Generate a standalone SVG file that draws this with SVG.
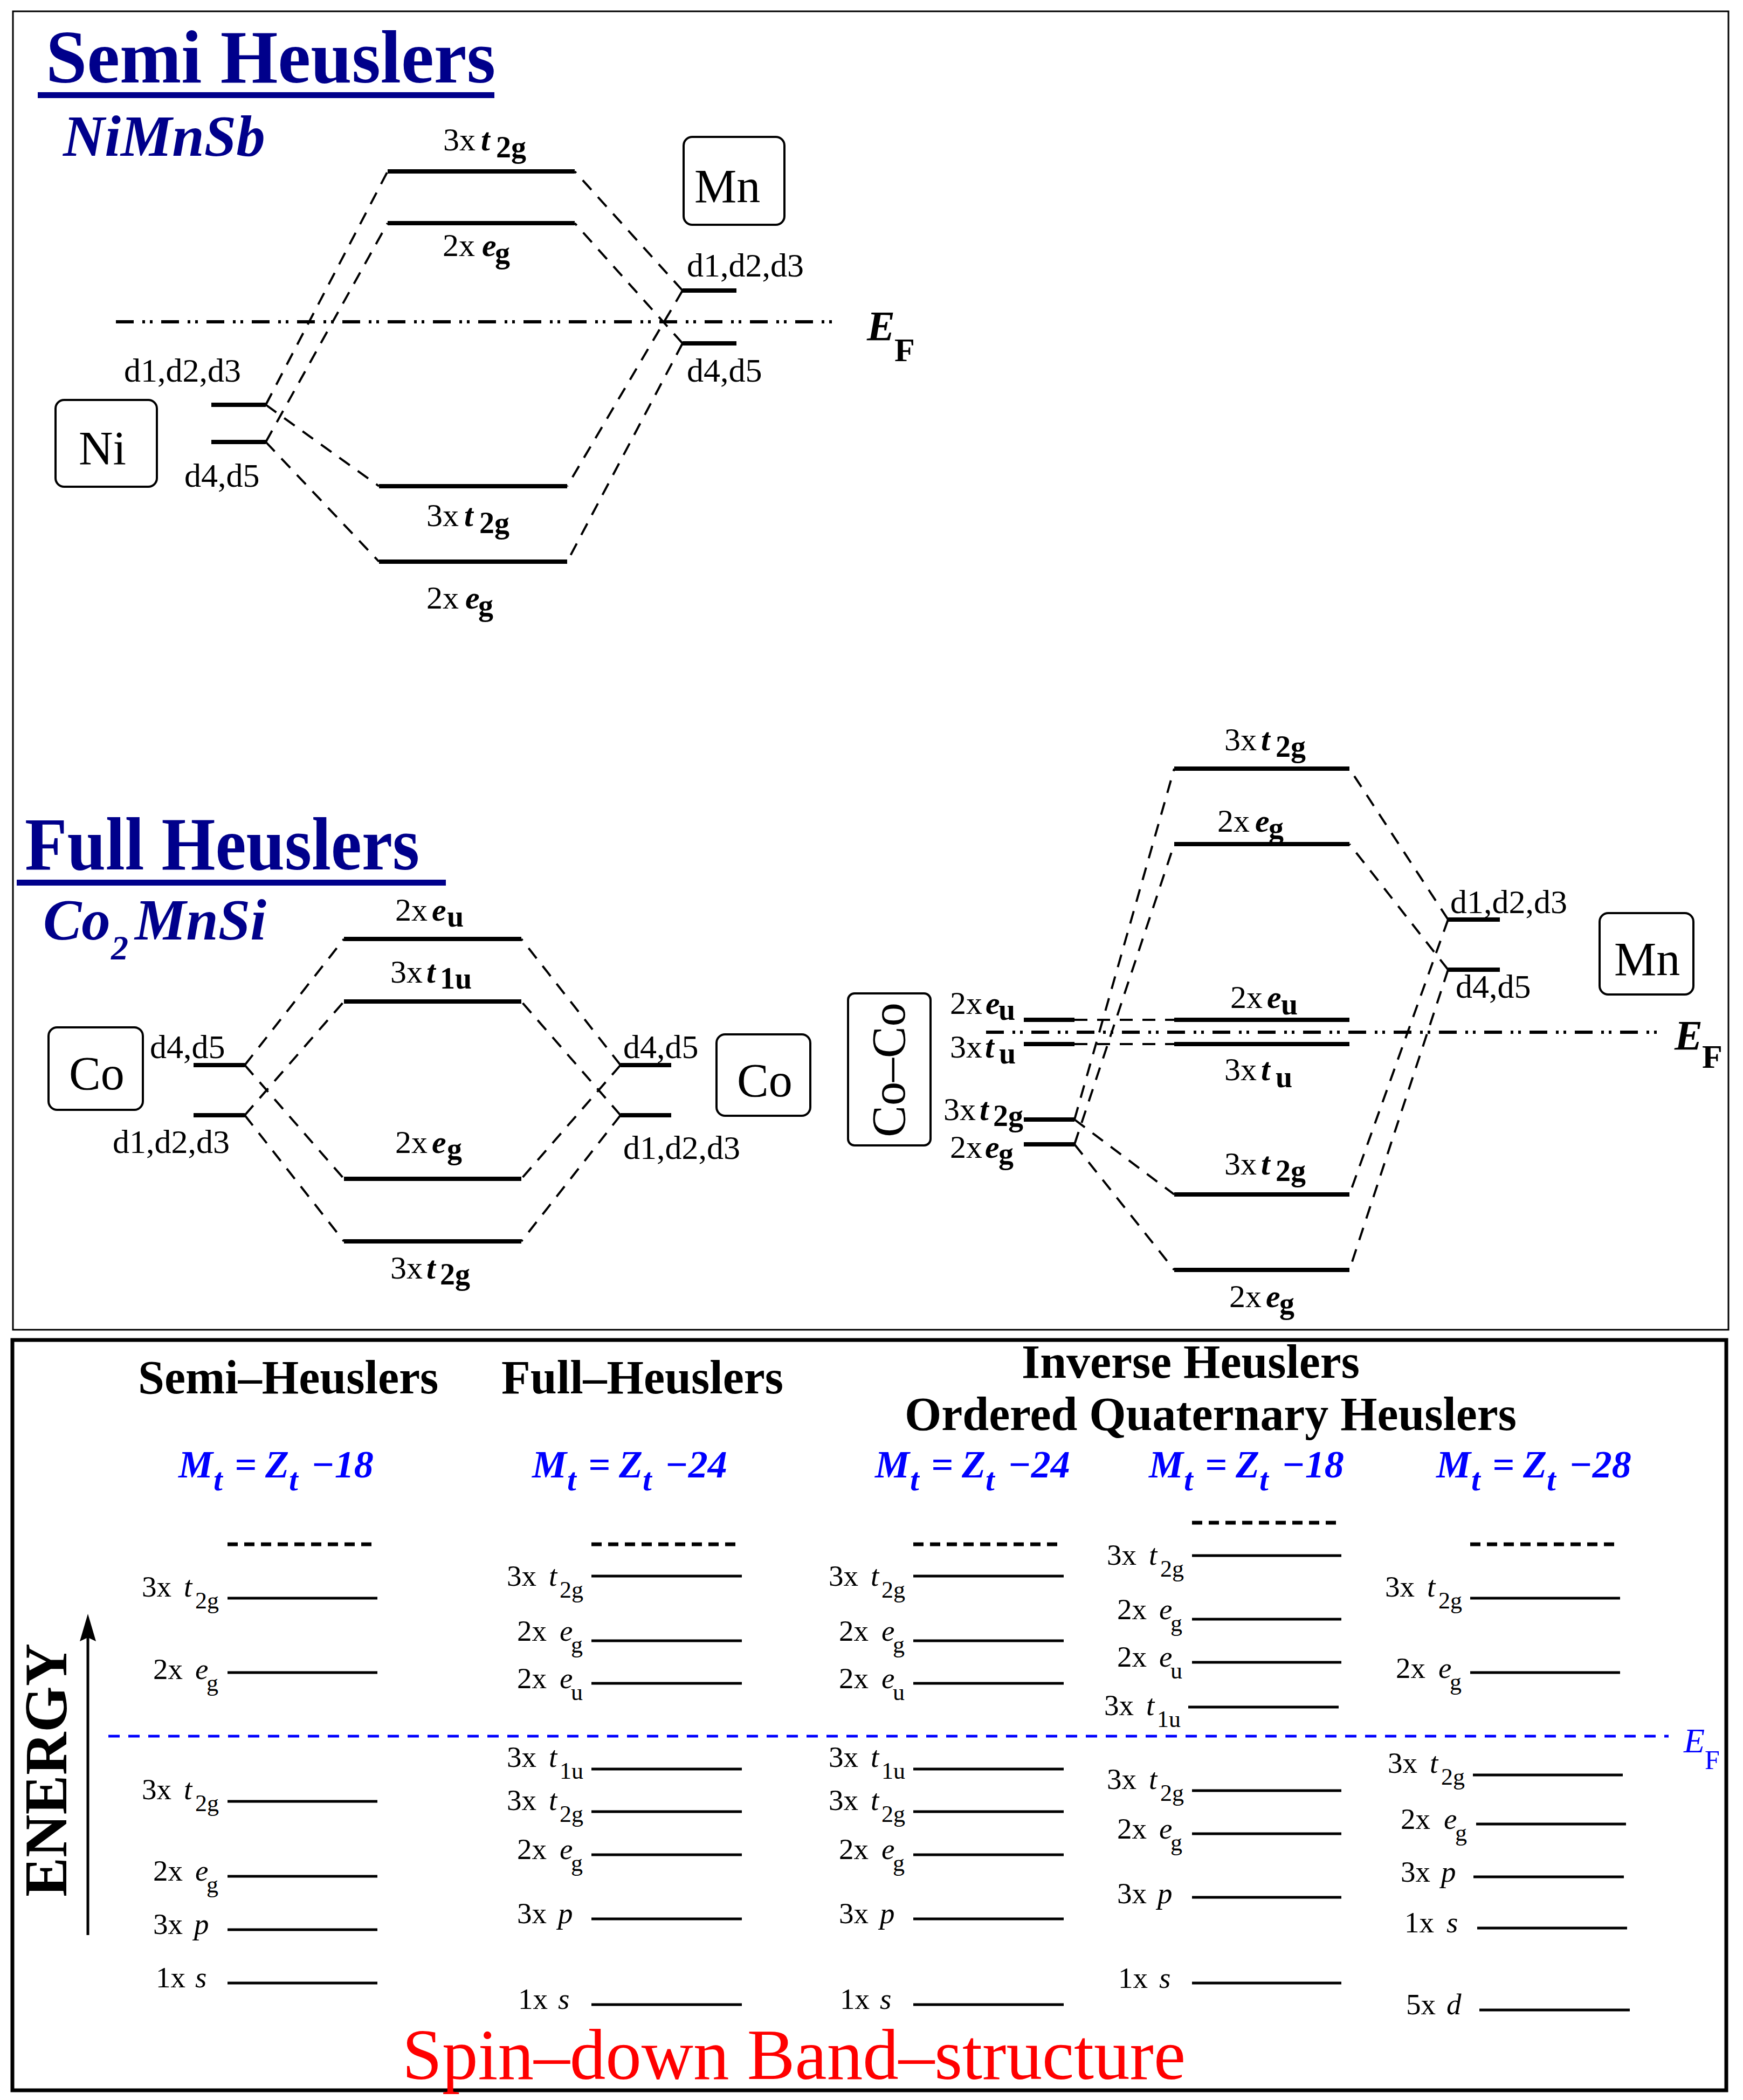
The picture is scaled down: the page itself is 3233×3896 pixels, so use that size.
<svg xmlns="http://www.w3.org/2000/svg" width="3233" height="3896" viewBox="0 0 3233 3896">
<style>
text{font-family:"Liberation Serif","Times New Roman",serif;fill:#000}
.lv{stroke:#000;stroke-width:8;fill:none}
.cn{stroke:#000;stroke-width:4;stroke-dasharray:24 18;fill:none}
.ef{stroke:#000;stroke-width:6;stroke-dasharray:33 16 5 9 5 16;fill:none}
.bl{stroke:#000;stroke-width:5;fill:none}
.bd{stroke:#000;stroke-width:7;stroke-dasharray:19 12;fill:none}
.bef{stroke:#0000ff;stroke-width:5;stroke-dasharray:21 16;fill:none}
.box{fill:none;stroke:#000;stroke-width:4}
.lb{font-size:60px}
.bi{font-weight:bold;font-style:italic}
.sb{font-weight:bold;font-size:56px}
.dl{font-size:62px}
.bx{font-size:88px}
.ttl{font-size:140px;font-weight:bold;fill:#00008b}
.cmp{font-size:107px;font-weight:bold;font-style:italic;fill:#00008b}
.hd{font-size:88px;font-weight:bold}
.fm{font-size:72px;font-weight:bold;font-style:italic;fill:#0000ff}
.fs{font-size:60px}
.tl{font-size:55px}
.it{font-style:italic}
.ts{font-size:44px}
</style>

<rect x="24" y="21" width="3182" height="2446" fill="none" stroke="#000" stroke-width="3"/>
<rect x="23" y="2486" width="3179" height="1392" fill="none" stroke="#000" stroke-width="7"/>

<!-- ===== Semi Heuslers ===== -->
<g id="semi-title">
<text class="ttl" x="85" y="153" textLength="834" lengthAdjust="spacingAndGlyphs">Semi Heuslers</text>
<rect x="70" y="171" width="847" height="11" fill="#00008b"/>
<text class="cmp" x="117" y="289">NiMnSb</text>
</g>

<g id="ni">
<rect class="box" x="103" y="742" width="188" height="161" rx="16"/>
<text class="bx" x="146" y="861">Ni</text>
<line class="lv" x1="392" y1="751" x2="493" y2="751"/>
<line class="lv" x1="392" y1="820" x2="493" y2="820"/>
<text class="dl" x="230" y="708">d1,d2,d3</text>
<text class="dl" x="342" y="903">d4,d5</text>
</g>

<g id="mn1">
<rect class="box" x="1268" y="254" width="187" height="163" rx="16"/>
<text class="bx" x="1288" y="375">Mn</text>
<line class="lv" x1="1266" y1="539" x2="1366" y2="539"/>
<line class="lv" x1="1266" y1="637" x2="1366" y2="637"/>
<text class="dl" x="1274" y="513">d1,d2,d3</text>
<text class="dl" x="1274" y="708">d4,d5</text>
</g>

<g id="semi-levels">
<line class="lv" x1="719" y1="318" x2="1066" y2="318"/>
<line class="lv" x1="719" y1="414" x2="1066" y2="414"/>
<line class="lv" x1="703" y1="902" x2="1052" y2="902"/>
<line class="lv" x1="703" y1="1042" x2="1052" y2="1042"/>
<text class="lb" x="822" y="279">3x<tspan class="bi" x="892">t</tspan><tspan class="sb" x="920" y="292">2g</tspan></text>
<text class="lb" x="821" y="475">2x<tspan class="bi" x="894">e</tspan><tspan class="sb" x="918" y="488">g</tspan></text>
<text class="lb" x="791" y="976">3x<tspan class="bi" x="861">t</tspan><tspan class="sb" x="889" y="989">2g</tspan></text>
<text class="lb" x="791" y="1129">2x<tspan class="bi" x="863">e</tspan><tspan class="sb" x="887" y="1142">g</tspan></text>
</g>

<g id="ef-semi">
<line class="ef" x1="215" y1="597" x2="1553" y2="597"/>
<text x="1608" y="631" font-size="78" font-weight="bold" font-style="italic">E</text>
<text x="1659" y="670" font-size="62" font-weight="bold">F</text>
</g>

<!-- ===== Full Heuslers ===== -->
<g id="full-title">
<text class="ttl" x="46" y="1613" textLength="732" lengthAdjust="spacingAndGlyphs">Full Heuslers</text>
<rect x="31" y="1632" width="796" height="11" fill="#00008b"/>
<text class="cmp" x="80" y="1743">Co<tspan x="206" y="1780" font-size="64">2</tspan><tspan x="250" y="1743">MnSi</tspan></text>
</g>

<g id="co-left">
<rect class="box" x="90" y="1906" width="175" height="153" rx="16"/>
<text class="bx" x="128" y="2021">Co</text>
<line class="lv" x1="359" y1="1976" x2="454" y2="1976"/>
<line class="lv" x1="359" y1="2069" x2="454" y2="2069"/>
<text class="dl" x="278" y="1963">d4,d5</text>
<text class="dl" x="209" y="2139">d1,d2,d3</text>
</g>

<g id="co-right">
<rect class="box" x="1329" y="1919" width="174" height="151" rx="16"/>
<text class="bx" x="1367" y="2034">Co</text>
<line class="lv" x1="1151" y1="1976" x2="1245" y2="1976"/>
<line class="lv" x1="1151" y1="2069" x2="1245" y2="2069"/>
<text class="dl" x="1156" y="1963">d4,d5</text>
<text class="dl" x="1156" y="2150">d1,d2,d3</text>
</g>

<g id="full-levels">
<line class="lv" x1="638" y1="1742" x2="967" y2="1742"/>
<line class="lv" x1="638" y1="1858" x2="967" y2="1858"/>
<line class="lv" x1="638" y1="2187" x2="967" y2="2187"/>
<line class="lv" x1="638" y1="2303" x2="967" y2="2303"/>
<text class="lb" x="733" y="1708">2x<tspan class="bi" x="801">e</tspan><tspan class="sb" x="829" y="1719">u</tspan></text>
<text class="lb" x="724" y="1823">3x<tspan class="bi" x="791">t</tspan><tspan class="sb" x="816" y="1834">1u</tspan></text>
<text class="lb" x="733" y="2139">2x<tspan class="bi" x="801">e</tspan><tspan class="sb" x="829" y="2150">g</tspan></text>
<text class="lb" x="724" y="2372">3x<tspan class="bi" x="791">t</tspan><tspan class="sb" x="816" y="2383">2g</tspan></text>
</g>

<g id="coco">
<rect class="box" x="1573" y="1843" width="153" height="282" rx="12"/>
<text class="bx" transform="translate(1678,1985) rotate(-90)" text-anchor="middle">Co–Co</text>
<line class="lv" x1="1899" y1="1892" x2="1993" y2="1892"/>
<line class="lv" x1="1899" y1="1937" x2="1993" y2="1937"/>
<line class="lv" x1="1899" y1="2077" x2="1993" y2="2077"/>
<line class="lv" x1="1899" y1="2123" x2="1993" y2="2123"/>
<text class="lb" x="1762" y="1881">2x<tspan class="bi" x="1828">e</tspan><tspan class="sb" x="1852" y="1892">u</tspan></text>
<text class="lb" x="1762" y="1962">3x<tspan class="bi" x="1827">t</tspan><tspan class="sb" x="1853" y="1973">u</tspan></text>
<text class="lb" x="1750" y="2078">3x<tspan class="bi" x="1817">t</tspan><tspan class="sb" x="1842" y="2089">2g</tspan></text>
<text class="lb" x="1762" y="2148">2x<tspan class="bi" x="1827">e</tspan><tspan class="sb" x="1852" y="2159">g</tspan></text>
</g>

<g id="mn2">
<rect class="box" x="2967" y="1694" width="174" height="151" rx="16"/>
<text class="bx" x="2994" y="1809">Mn</text>
<line class="lv" x1="2686" y1="1706" x2="2782" y2="1706"/>
<line class="lv" x1="2686" y1="1799" x2="2782" y2="1799"/>
<text class="dl" x="2690" y="1694">d1,d2,d3</text>
<text class="dl" x="2700" y="1851">d4,d5</text>
</g>

<g id="inv-levels">
<line class="lv" x1="2178" y1="1426" x2="2503" y2="1426"/>
<line class="lv" x1="2178" y1="1566" x2="2503" y2="1566"/>
<line class="lv" x1="2178" y1="1892" x2="2503" y2="1892"/>
<line class="lv" x1="2178" y1="1937" x2="2503" y2="1937"/>
<line class="lv" x1="2178" y1="2216" x2="2503" y2="2216"/>
<line class="lv" x1="2178" y1="2356" x2="2503" y2="2356"/>
<text class="lb" x="2271" y="1392">3x<tspan class="bi" x="2339">t</tspan><tspan class="sb" x="2366" y="1404">2g</tspan></text>
<text class="lb" x="2258" y="1543">2x<tspan class="bi" x="2328">e</tspan><tspan class="sb" x="2353" y="1555">g</tspan></text>
<text class="lb" x="2282" y="1870">2x<tspan class="bi" x="2350">e</tspan><tspan class="sb" x="2376" y="1882">u</tspan></text>
<text class="lb" x="2271" y="2004">3x<tspan class="bi" x="2339">t</tspan><tspan class="sb" x="2366" y="2017">u</tspan></text>
<text class="lb" x="2271" y="2179">3x<tspan class="bi" x="2339">t</tspan><tspan class="sb" x="2366" y="2191">2g</tspan></text>
<text class="lb" x="2280" y="2425">2x<tspan class="bi" x="2348">e</tspan><tspan class="sb" x="2373" y="2437">g</tspan></text>
</g>

<g id="ef-full">
<line class="ef" x1="1829" y1="1915" x2="3087" y2="1915"/>
<text x="3106" y="1947" font-size="78" font-weight="bold" font-style="italic">E</text>
<text x="3157" y="1981" font-size="62" font-weight="bold">F</text>
</g>

<g id="connectors">
<!-- semi -->
<line class="cn" x1="493" y1="751" x2="719" y2="318"/>
<line class="cn" x1="493" y1="751" x2="703" y2="902"/>
<line class="cn" x1="493" y1="820" x2="719" y2="414"/>
<line class="cn" x1="493" y1="820" x2="703" y2="1042"/>
<line class="cn" x1="1266" y1="539" x2="1066" y2="318"/>
<line class="cn" x1="1266" y1="539" x2="1052" y2="902"/>
<line class="cn" x1="1266" y1="637" x2="1066" y2="414"/>
<line class="cn" x1="1266" y1="637" x2="1052" y2="1042"/>
<!-- full left -->
<line class="cn" x1="454" y1="1976" x2="638" y2="1742"/>
<line class="cn" x1="454" y1="1976" x2="638" y2="2187"/>
<line class="cn" x1="454" y1="2069" x2="638" y2="1858"/>
<line class="cn" x1="454" y1="2069" x2="638" y2="2303"/>
<line class="cn" x1="1151" y1="1976" x2="967" y2="1742"/>
<line class="cn" x1="1151" y1="1976" x2="967" y2="2187"/>
<line class="cn" x1="1151" y1="2069" x2="967" y2="1858"/>
<line class="cn" x1="1151" y1="2069" x2="967" y2="2303"/>
<!-- full right -->
<line class="cn" x1="1993" y1="2077" x2="2178" y2="1426"/>
<line class="cn" x1="1993" y1="2123" x2="2178" y2="1566"/>
<line class="cn" x1="1993" y1="2077" x2="2178" y2="2216"/>
<line class="cn" x1="1993" y1="2123" x2="2178" y2="2356"/>
<line class="cn" x1="1993" y1="1892" x2="2178" y2="1892"/>
<line class="cn" x1="1993" y1="1937" x2="2178" y2="1937"/>
<line class="cn" x1="2686" y1="1706" x2="2503" y2="1426"/>
<line class="cn" x1="2686" y1="1706" x2="2503" y2="2216"/>
<line class="cn" x1="2686" y1="1799" x2="2503" y2="1566"/>
<line class="cn" x1="2686" y1="1799" x2="2503" y2="2356"/>
</g>

<!-- ===== Bottom table ===== -->
<g id="headers">
<text class="hd" x="256" y="2585">Semi–Heuslers</text>
<text class="hd" x="930" y="2585">Full–Heuslers</text>
<text class="hd" x="1895" y="2556" textLength="627" lengthAdjust="spacingAndGlyphs">Inverse Heuslers</text>
<text class="hd" x="1678" y="2653" textLength="1135" lengthAdjust="spacingAndGlyphs">Ordered Quaternary Heuslers</text>
</g>

<g id="formulas">
<text class="fm"><tspan x="331" y="2741">M</tspan><tspan class="fs" x="396" y="2765">t</tspan><tspan x="435" y="2741">=</tspan><tspan x="492" y="2741">Z</tspan><tspan class="fs" x="536" y="2765">t</tspan><tspan x="577" y="2741">−18</tspan></text>
<text class="fm"><tspan x="987" y="2741">M</tspan><tspan class="fs" x="1052" y="2765">t</tspan><tspan x="1091" y="2741">=</tspan><tspan x="1148" y="2741">Z</tspan><tspan class="fs" x="1192" y="2765">t</tspan><tspan x="1233" y="2741">−24</tspan></text>
<text class="fm"><tspan x="1623" y="2741">M</tspan><tspan class="fs" x="1688" y="2765">t</tspan><tspan x="1727" y="2741">=</tspan><tspan x="1784" y="2741">Z</tspan><tspan class="fs" x="1828" y="2765">t</tspan><tspan x="1869" y="2741">−24</tspan></text>
<text class="fm"><tspan x="2131" y="2741">M</tspan><tspan class="fs" x="2196" y="2765">t</tspan><tspan x="2235" y="2741">=</tspan><tspan x="2292" y="2741">Z</tspan><tspan class="fs" x="2336" y="2765">t</tspan><tspan x="2377" y="2741">−18</tspan></text>
<text class="fm"><tspan x="2664" y="2741">M</tspan><tspan class="fs" x="2729" y="2765">t</tspan><tspan x="2768" y="2741">=</tspan><tspan x="2825" y="2741">Z</tspan><tspan class="fs" x="2869" y="2765">t</tspan><tspan x="2910" y="2741">−28</tspan></text>
</g>

<g id="energy-axis">
<text transform="translate(123,3284) rotate(-90)" text-anchor="middle" font-size="112" font-weight="bold" textLength="470" lengthAdjust="spacingAndGlyphs">ENERGY</text>
<line x1="163" y1="3590" x2="163" y2="3035" stroke="#000" stroke-width="5"/>
<polygon points="163,2994 178,3045 163,3038 148,3045" fill="#000"/>
</g>

<g id="ef-bottom">
<line class="bef" x1="201" y1="3221" x2="3095" y2="3221"/>
<text x="3123" y="3251" font-size="64" font-style="italic" style="fill:#0000ff">E</text>
<text x="3162" y="3282" font-size="50" style="fill:#0000ff">F</text>
</g>

<g id="col-semi">
<line class="bd" x1="422" y1="2865" x2="690" y2="2865"/>
<line class="bl" x1="422" y1="2965" x2="700" y2="2965"/>
<line class="bl" x1="422" y1="3103" x2="700" y2="3103"/>
<line class="bl" x1="422" y1="3342" x2="700" y2="3342"/>
<line class="bl" x1="422" y1="3481" x2="700" y2="3481"/>
<line class="bl" x1="422" y1="3580" x2="700" y2="3580"/>
<line class="bl" x1="422" y1="3679" x2="700" y2="3679"/>
<text class="tl" x="263" y="2962">3x<tspan class="it" x="341">t</tspan><tspan class="ts" x="362" y="2984">2g</tspan></text>
<text class="tl" x="284" y="3115">2x<tspan class="it" x="362">e</tspan><tspan class="ts" x="383" y="3137">g</tspan></text>
<text class="tl" x="263" y="3338">3x<tspan class="it" x="341">t</tspan><tspan class="ts" x="362" y="3360">2g</tspan></text>
<text class="tl" x="284" y="3489">2x<tspan class="it" x="362">e</tspan><tspan class="ts" x="383" y="3511">g</tspan></text>
<text class="tl" x="284" y="3588">3x<tspan class="it" x="360">p</tspan></text>
<text class="tl" x="289" y="3687">1x<tspan class="it" x="362">s</tspan></text>
</g>

<g id="col-full">
<line class="bd" x1="1097" y1="2865" x2="1366" y2="2865"/>
<line class="bl" x1="1097" y1="2924" x2="1376" y2="2924"/>
<line class="bl" x1="1097" y1="3044" x2="1376" y2="3044"/>
<line class="bl" x1="1097" y1="3123" x2="1376" y2="3123"/>
<line class="bl" x1="1097" y1="3282" x2="1376" y2="3282"/>
<line class="bl" x1="1097" y1="3361" x2="1376" y2="3361"/>
<line class="bl" x1="1097" y1="3441" x2="1376" y2="3441"/>
<line class="bl" x1="1097" y1="3560" x2="1376" y2="3560"/>
<line class="bl" x1="1097" y1="3719" x2="1376" y2="3719"/>
<text class="tl" x="940" y="2942">3x<tspan class="it" x="1018">t</tspan><tspan class="ts" x="1038" y="2964">2g</tspan></text>
<text class="tl" x="959" y="3044">2x<tspan class="it" x="1038">e</tspan><tspan class="ts" x="1059" y="3066">g</tspan></text>
<text class="tl" x="959" y="3132">2x<tspan class="it" x="1038">e</tspan><tspan class="ts" x="1059" y="3154">u</tspan></text>
<text class="tl" x="940" y="3278">3x<tspan class="it" x="1018">t</tspan><tspan class="ts" x="1038" y="3300">1u</tspan></text>
<text class="tl" x="940" y="3358">3x<tspan class="it" x="1018">t</tspan><tspan class="ts" x="1038" y="3380">2g</tspan></text>
<text class="tl" x="959" y="3449">2x<tspan class="it" x="1038">e</tspan><tspan class="ts" x="1059" y="3471">g</tspan></text>
<text class="tl" x="959" y="3568">3x<tspan class="it" x="1035">p</tspan></text>
<text class="tl" x="961" y="3727">1x<tspan class="it" x="1035">s</tspan></text>
</g>

<g id="col-inverse">
<line class="bd" x1="1694" y1="2865" x2="1963" y2="2865"/>
<line class="bl" x1="1694" y1="2924" x2="1973" y2="2924"/>
<line class="bl" x1="1694" y1="3044" x2="1973" y2="3044"/>
<line class="bl" x1="1694" y1="3123" x2="1973" y2="3123"/>
<line class="bl" x1="1694" y1="3282" x2="1973" y2="3282"/>
<line class="bl" x1="1694" y1="3361" x2="1973" y2="3361"/>
<line class="bl" x1="1694" y1="3441" x2="1973" y2="3441"/>
<line class="bl" x1="1694" y1="3560" x2="1973" y2="3560"/>
<line class="bl" x1="1694" y1="3719" x2="1973" y2="3719"/>
<text class="tl" x="1537" y="2942">3x<tspan class="it" x="1615">t</tspan><tspan class="ts" x="1635" y="2964">2g</tspan></text>
<text class="tl" x="1556" y="3044">2x<tspan class="it" x="1635">e</tspan><tspan class="ts" x="1656" y="3066">g</tspan></text>
<text class="tl" x="1556" y="3132">2x<tspan class="it" x="1635">e</tspan><tspan class="ts" x="1656" y="3154">u</tspan></text>
<text class="tl" x="1537" y="3278">3x<tspan class="it" x="1615">t</tspan><tspan class="ts" x="1635" y="3300">1u</tspan></text>
<text class="tl" x="1537" y="3358">3x<tspan class="it" x="1615">t</tspan><tspan class="ts" x="1635" y="3380">2g</tspan></text>
<text class="tl" x="1556" y="3449">2x<tspan class="it" x="1635">e</tspan><tspan class="ts" x="1656" y="3471">g</tspan></text>
<text class="tl" x="1556" y="3568">3x<tspan class="it" x="1632">p</tspan></text>
<text class="tl" x="1558" y="3727">1x<tspan class="it" x="1632">s</tspan></text>
</g>

<g id="col-quat18">
<line class="bd" x1="2211" y1="2825" x2="2480" y2="2825"/>
<line class="bl" x1="2211" y1="2886" x2="2488" y2="2886"/>
<line class="bl" x1="2211" y1="3004" x2="2488" y2="3004"/>
<line class="bl" x1="2211" y1="3084" x2="2488" y2="3084"/>
<line class="bl" x1="2204" y1="3167" x2="2483" y2="3167"/>
<line class="bl" x1="2211" y1="3322" x2="2488" y2="3322"/>
<line class="bl" x1="2211" y1="3402" x2="2488" y2="3402"/>
<line class="bl" x1="2211" y1="3520" x2="2488" y2="3520"/>
<line class="bl" x1="2211" y1="3679" x2="2488" y2="3679"/>
<text class="tl" x="2053" y="2903">3x<tspan class="it" x="2131">t</tspan><tspan class="ts" x="2152" y="2925">2g</tspan></text>
<text class="tl" x="2072" y="3004">2x<tspan class="it" x="2150">e</tspan><tspan class="ts" x="2171" y="3026">g</tspan></text>
<text class="tl" x="2072" y="3092">2x<tspan class="it" x="2150">e</tspan><tspan class="ts" x="2171" y="3114">u</tspan></text>
<text class="tl" x="2048" y="3182">3x<tspan class="it" x="2126">t</tspan><tspan class="ts" x="2146" y="3204">1u</tspan></text>
<text class="tl" x="2053" y="3319">3x<tspan class="it" x="2131">t</tspan><tspan class="ts" x="2152" y="3341">2g</tspan></text>
<text class="tl" x="2072" y="3411">2x<tspan class="it" x="2150">e</tspan><tspan class="ts" x="2171" y="3433">g</tspan></text>
<text class="tl" x="2072" y="3531">3x<tspan class="it" x="2147">p</tspan></text>
<text class="tl" x="2074" y="3688">1x<tspan class="it" x="2150">s</tspan></text>
</g>

<g id="col-quat28">
<line class="bd" x1="2727" y1="2865" x2="2996" y2="2865"/>
<line class="bl" x1="2727" y1="2965" x2="3005" y2="2965"/>
<line class="bl" x1="2727" y1="3103" x2="3005" y2="3103"/>
<line class="bl" x1="2732" y1="3293" x2="3010" y2="3293"/>
<line class="bl" x1="2738" y1="3384" x2="3016" y2="3384"/>
<line class="bl" x1="2733" y1="3482" x2="3012" y2="3482"/>
<line class="bl" x1="2740" y1="3577" x2="3018" y2="3577"/>
<line class="bl" x1="2744" y1="3729" x2="3023" y2="3729"/>
<text class="tl" x="2569" y="2962">3x<tspan class="it" x="2647">t</tspan><tspan class="ts" x="2668" y="2984">2g</tspan></text>
<text class="tl" x="2589" y="3113">2x<tspan class="it" x="2668">e</tspan><tspan class="ts" x="2689" y="3135">g</tspan></text>
<text class="tl" x="2574" y="3289">3x<tspan class="it" x="2652">t</tspan><tspan class="ts" x="2673" y="3311">2g</tspan></text>
<text class="tl" x="2598" y="3393">2x<tspan class="it" x="2678">e</tspan><tspan class="ts" x="2699" y="3415">g</tspan></text>
<text class="tl" x="2598" y="3491">3x<tspan class="it" x="2673">p</tspan></text>
<text class="tl" x="2605" y="3585">1x<tspan class="it" x="2683">s</tspan></text>
<text class="tl" x="2608" y="3737">5x<tspan class="it" x="2683">d</tspan></text>
</g>

<g id="caption">
<text x="746" y="3857" font-size="133" style="fill:#ff0000" textLength="1453" lengthAdjust="spacingAndGlyphs">Spin–down Band–structure</text>
</g>
</svg>
